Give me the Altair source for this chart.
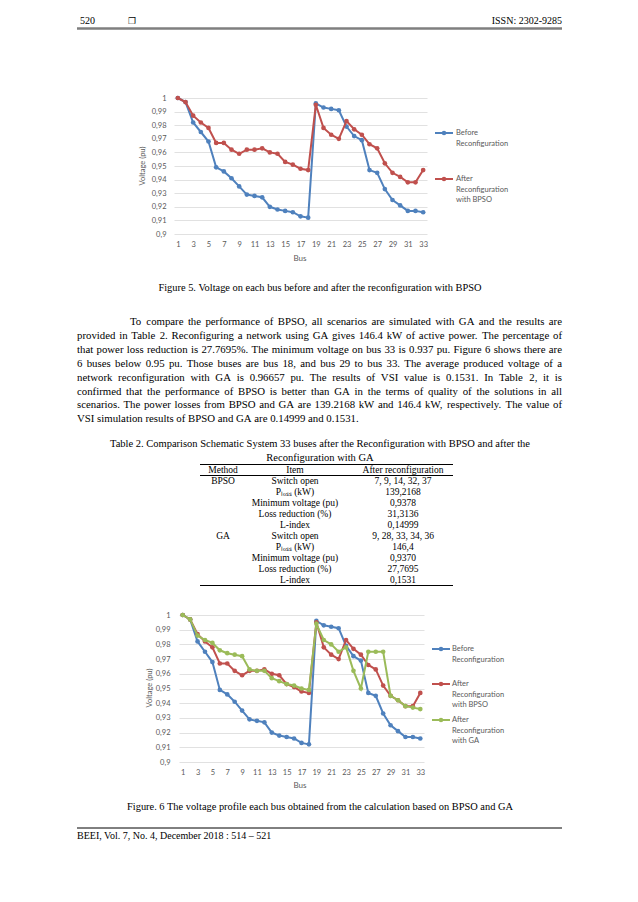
import altair as alt
import pandas as pd

# ---------------- data ----------------
bus = list(range(1, 34))
v_before = [1.000, 0.997, 0.982, 0.975, 0.968, 0.949, 0.946, 0.941, 0.935, 0.929, 0.928,
            0.927, 0.920, 0.918, 0.917, 0.916, 0.913, 0.912, 0.996, 0.993, 0.992, 0.991,
            0.979, 0.972, 0.969, 0.947, 0.945, 0.933, 0.925, 0.921, 0.917, 0.917, 0.916]
v_bpso = [1.000, 0.997, 0.987, 0.982, 0.978, 0.967, 0.967, 0.962, 0.959, 0.962, 0.962,
          0.963, 0.960, 0.959, 0.953, 0.951, 0.948, 0.947, 0.995, 0.978, 0.973, 0.970,
          0.983, 0.977, 0.973, 0.966, 0.963, 0.952, 0.945, 0.942, 0.938, 0.938, 0.947]
v_ga = [1.000, 0.997, 0.986, 0.983, 0.981, 0.976, 0.974, 0.973, 0.972, 0.963, 0.962,
        0.962, 0.957, 0.955, 0.953, 0.952, 0.950, 0.949, 0.994, 0.983, 0.980, 0.975,
        0.978, 0.962, 0.950, 0.975, 0.975, 0.975, 0.945, 0.942, 0.938, 0.937, 0.936]
series = ["Before Reconfiguration", "After Reconfiguration with BPSO", "After Reconfiguration with GA"]
legend_lines = [["Before", "Reconfiguration"],
                ["After", "Reconfiguration", "with BPSO"],
                ["After", "Reconfiguration", "with GA"]]
colors = ["#4F81BD", "#C0504D", "#9BBB59"]
y_ticks = [0.9, 0.91, 0.92, 0.93, 0.94, 0.95, 0.96, 0.97, 0.98, 0.99, 1.0]
x_ticks = [1, 3, 5, 7, 9, 11, 13, 15, 17, 19, 21, 23, 25, 27, 29, 31, 33]

header_left = "520"
header_box = "\u2750"
header_right = "ISSN: 2302-9285"
caption5 = "Figure 5. Voltage on each bus before and after the reconfiguration with BPSO"
paragraph = [
    "To compare the performance of BPSO, all scenarios are simulated with GA and the results are",
    "provided in Table 2. Reconfiguring a network using GA gives 146.4 kW of active power. The percentage of",
    "that power loss reduction is 27.7695%. The minimum voltage on bus 33 is 0.937 pu. Figure 6 shows there are",
    "6 buses below 0.95 pu. Those buses are bus 18, and bus 29 to bus 33. The average produced voltage of a",
    "network reconfiguration with GA is 0.96657 pu. The results of VSI value is 0.1531. In Table 2, it is",
    "confirmed that the performance of BPSO is better than GA in the terms of quality of the solutions in all",
    "scenarios. The power losses from BPSO and GA are 139.2168 kW and 146.4 kW, respectively. The value of",
    "VSI simulation results of BPSO and GA are 0.14999 and 0.1531.",
]
table_title = ["Table 2. Comparison Schematic System 33 buses after the Reconfiguration with BPSO and after the",
               "Reconfiguration with GA"]
table_header = ["Method", "Item", "After reconfiguration"]
t_method = ["BPSO", "", "", "", "", "GA", "", "", "", ""]
t_item = ["Switch open", "P\u2097\u2092\u209b\u209b (kW)", "Minimum voltage (pu)", "Loss reduction (%)", "L-index",
          "Switch open", "P\u2097\u2092\u209b\u209b (kW)", "Minimum voltage (pu)", "Loss reduction (%)", "L-index"]
t_value = ["7, 9, 14, 32, 37", "139,2168", "0,9378", "31,3136", "0,14999",
           "9, 28, 33, 34, 36", "146,4", "0,9370", "27,7695", "0,1531"]
caption6 = "Figure. 6 The voltage profile each bus obtained from the calculation based on BPSO and GA"
footer = "BEEI, Vol. 7, No. 4, December 2018 :  514 \u2013 521"

df = pd.DataFrame({
    "bus": bus * 3,
    "voltage": v_before + v_bpso + v_ga,
    "series": [series[0]] * 33 + [series[1]] * 33 + [series[2]] * 33,
})

SERIF = "Liberation Serif"
SANS = "Lato"
GREY = "#595959"
one = pd.DataFrame({"k": [0]})
color_scale = alt.Scale(domain=series, range=colors)

# Times / Liberation Serif advance widths (1/1000 em) for justified text layout
_W = {" ": 250, ".": 250, ",": 250, "%": 833, "-": 333, ":": 278, "(": 333, ")": 333,
      "A": 722, "B": 667, "C": 667, "D": 722, "E": 611, "F": 556, "G": 722, "H": 722, "I": 333,
      "J": 389, "K": 722, "L": 611, "M": 889, "N": 722, "O": 722, "P": 556, "Q": 722, "R": 667,
      "S": 556, "T": 611, "U": 722, "V": 722, "W": 944, "X": 722, "Y": 722, "Z": 611,
      "a": 444, "b": 500, "c": 444, "d": 500, "e": 444, "f": 333, "g": 500, "h": 500, "i": 278,
      "j": 278, "k": 500, "l": 278, "m": 778, "n": 500, "o": 500, "p": 500, "q": 500, "r": 333,
      "s": 389, "t": 278, "u": 500, "v": 500, "w": 722, "x": 500, "y": 500, "z": 444}


def tw(s, size):
    return sum(_W.get(ch, 500) for ch in s) * size / 1000.0


def text_block(lines, x, y_first, size, lh=None, align="left", font=SERIF, color="black"):
    d = pd.DataFrame({"t": ["\n".join(lines)]})
    return alt.Chart(d).mark_text(
        align=align, baseline="top", lineBreak="\n", lineHeight=lh or size * 1.2,
        font=font, fontSize=size, color=color
    ).encode(x=alt.value(x), y=alt.value(y_first - 0.5 * size), text="t:N")


def text_one(s, x, y, size, align="left", font=SERIF, color="black", angle=0):
    d = pd.DataFrame({"t": [s]})
    return alt.Chart(d).mark_text(
        align=align, baseline="middle", font=font, fontSize=size, color=color, angle=angle
    ).encode(x=alt.value(x), y=alt.value(y), text="t:N")


def hrule(x0, x1, y, color="black", w=1.0):
    return alt.Chart(one).mark_rule(color=color, strokeWidth=w).encode(
        x=alt.value(x0), x2=alt.value(x1), y=alt.value(y))


def chart_layers(names, xr, yr, x_off, y_off, ylab_pad):
    xenc = alt.X("bus:Q", scale=alt.Scale(domain=[0.5, 33.5], range=xr, nice=False, zero=False),
                 axis=alt.Axis(values=x_ticks, title=None, grid=False, domain=False, ticks=False,
                               tickSize=0, labelPadding=10, labelBaseline="middle", offset=x_off,
                               labelFont=SANS, labelFontSize=7.5, labelColor=GREY,
                               labelFlush=False, labelOverlap=False))
    yenc = alt.Y("voltage:Q", scale=alt.Scale(domain=[0.9, 1.0], range=yr, nice=False, zero=False),
                 axis=alt.Axis(values=y_ticks, title=None, grid=True, gridColor="#d9d9d9",
                               gridWidth=0.8, domain=False, ticks=False, tickSize=0,
                               labelPadding=ylab_pad, offset=y_off,
                               labelExpr="replace(format(datum.value, '.2~f'), '.', ',')",
                               labelFont=SANS, labelFontSize=7.5, labelColor=GREY,
                               labelOverlap=False))
    layers = []
    for name in names:
        base = alt.Chart(df[df.series == name]).encode(
            x=xenc, y=yenc, color=alt.Color("series:N", scale=color_scale, legend=None))
        layers.append(base.mark_line(strokeWidth=2))
        layers.append(base.mark_point(filled=True, size=22, opacity=1))
    return layers


def legend_layers(idx_list, x0, x1, xt, ys, lh):
    layers = []
    for i, y in zip(idx_list, ys):
        c = colors[i]
        layers.append(hrule(x0, x1, y, color=c, w=2))
        layers.append(alt.Chart(one).mark_point(filled=True, size=20, opacity=1, color=c).encode(
            x=alt.value((x0 + x1) / 2), y=alt.value(y)))
        layers.append(text_block(legend_lines[i], xt, y, 7.5, lh=lh, font=SANS, color=GREY))
    return layers


# ---------------- panel A: header + figure 5 (page y 8..300) ----------------
HA = 292
panelA_layers = [
    text_one(header_left, 72, 13, 10),
    text_one(header_box, 120, 13, 9, font="DejaVu Sans"),
    text_one(header_right, 554, 13, 10, align="right"),
    hrule(69, 554, 20.5, color="#7f7f7f", w=2.5),
]
panelA_layers += chart_layers(series[:2], [166, 419], [226, 90], -(HA - 226), -166, 8)
panelA_layers += [
    text_one("Voltage (pu)", 135, 158, 7.5, align="center", font=SANS, color=GREY, angle=270),
    text_one("Bus", 292, 251, 8, align="center", font=SANS, color=GREY),
]
panelA_layers += legend_layers([0, 1], 427, 445, 448, [125, 171], 10.5)
panelA_layers.append(text_one(caption5, 312, 280, 10.4, align="center"))
panelA = alt.layer(*panelA_layers).properties(width=622, height=HA)

# ---------------- panel P: justified paragraph (page y 300..430) ----------------
HP = 130
FS, LH = 10.8, 13.9
LEFT, RIGHT, INDENT = 69, 554, 53
rows = []
for li, line in enumerate(paragraph):
    words = line.split(" ")
    x0 = LEFT + (INDENT if li == 0 else 0)
    widths = [tw(w, FS) for w in words]
    if li < len(paragraph) - 1 and len(words) > 1:
        gap = max((RIGHT - x0 - sum(widths)) / (len(words) - 1), 0.6 * tw(" ", FS))
    else:
        gap = tw(" ", FS)
    x = x0
    for w, wd in zip(words, widths):
        rows.append({"word": w, "px": x, "py": 22 + li * LH})
        x += wd + gap
words_df = pd.DataFrame(rows)
panelP = alt.Chart(words_df).mark_text(
    align="left", baseline="middle", font=SERIF, fontSize=FS, color="black"
).encode(
    x=alt.X("px:Q", scale=alt.Scale(domain=[0, 622], range=[0, 622]), axis=None),
    y=alt.Y("py:Q", scale=alt.Scale(domain=[0, HP], range=[0, HP]), axis=None),
    text="word:N",
).properties(width=622, height=HP)

# ---------------- panel B: table + figure 6 + footer (page y 430..890) ----------------
HB = 460
ROW0, STEP = 51, 11
panelB_layers = [
    text_block(table_title, 312, 14, 10.5, lh=14, align="center"),
    hrule(192, 445, 34.5),
    text_one(table_header[0], 215, 40, 9.5, align="center"),
    text_one(table_header[1], 287, 40, 9.5, align="center"),
    text_one(table_header[2], 395, 40, 9.5, align="center"),
    hrule(192, 445, 45.5),
    text_block(t_item, 287, ROW0, 9.5, lh=STEP, align="center"),
    text_block(t_value, 395, ROW0, 9.5, lh=STEP, align="center"),
    hrule(192, 445, ROW0 + 9 * STEP + 5.5),
]
for i, m in enumerate(t_method):
    if m:
        panelB_layers.append(text_one(m, 215, ROW0 + i * STEP, 9.5, align="center"))
panelB_layers += chart_layers(series, [171, 416], [332, 185], -(HB - 332), -171, 9)
panelB_layers += [
    text_one("Voltage (pu)", 142, 258, 7.5, align="center", font=SANS, color=GREY, angle=270),
    text_one("Bus", 292, 356, 8, align="center", font=SANS, color=GREY),
]
panelB_layers += legend_layers([0, 1, 2], 424, 442, 444, [219, 254, 290], 10.5)
panelB_layers += [
    text_one(caption6, 312, 377, 10.4, align="center"),
    hrule(69, 554, 398, w=1),
    text_one(footer, 69, 405.5, 10),
]
panelB = alt.layer(*panelB_layers).properties(width=622, height=HB)

chart = alt.vconcat(panelA, panelP, panelB, spacing=0, bounds="flush").properties(
    padding=0, background="white"
).configure_view(stroke=None)

chart.save("out.html", embed_options={"renderer": "svg", "actions": False})
